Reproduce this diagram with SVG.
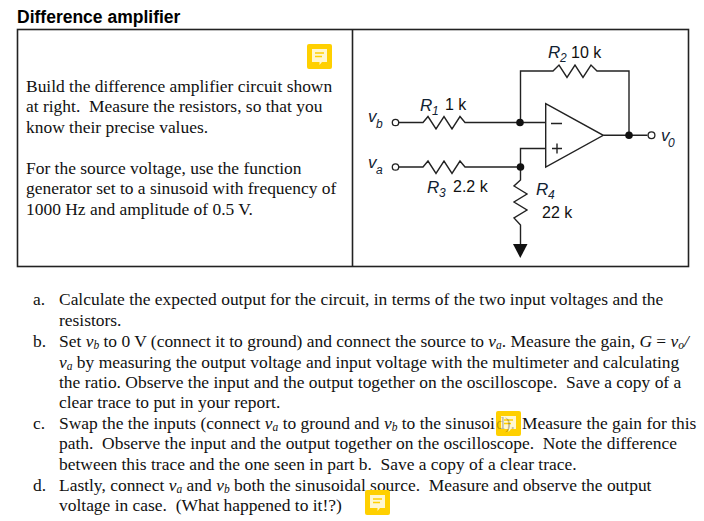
<svg xmlns="http://www.w3.org/2000/svg" width="704" height="521" viewBox="0 0 704 521">
<defs>
<style>
text{fill:#000;white-space:pre}
.s{font-family:"Liberation Serif",serif;font-size:17.45px;fill:#111}
.i{font-style:italic}
.sub{font-size:11.5px;font-style:italic}
.h{font-family:"Liberation Sans",sans-serif;font-size:17.5px;font-weight:bold}
.c{font-family:"Liberation Sans",sans-serif;font-size:16px;fill:#111}
.ci{font-family:"Liberation Sans",sans-serif;font-size:17px;font-style:italic;fill:#123}
.cs{font-family:"Liberation Sans",sans-serif;font-size:12px;font-style:italic;fill:#123}
.w{fill:none;stroke:#222;stroke-width:1.4}
.t{fill:#fff;stroke:#222;stroke-width:1.3}
.d{fill:#111}
.box{fill:none;stroke:#222;stroke-width:1.6}
</style>
<g id="note">
<rect x="0" y="0" width="25" height="25" rx="2" fill="#ffd000"/>
<path d="M5 5H20V18H15L12.500 21V18H5Z" fill="#fff7d0"/>
<path d="M8 9H17M8 12.500H15" stroke="#ffd000" stroke-width="1.300" fill="none"/>
</g>
</defs>
<rect width="704" height="521" fill="#fff"/>
<text id="title" class="h" x="17" y="23">Difference amplifier</text>
<g id="frame">
<rect class="box" x="17.500" y="29.500" width="671" height="237"/>
<path class="box" d="M352.500 29.500V266.500"/>
</g>
<g id="intro">
<text class="s" x="26" y="92">Build the difference amplifier circuit shown</text>
<text class="s" x="26" y="112">at right.  Measure the resistors, so that you</text>
<text class="s" x="26" y="133">know their precise values.</text>
<text class="s" x="26" y="174">For the source voltage, use the function</text>
<text class="s" x="26" y="194">generator set to a sinusoid with frequency of</text>
<text class="s" x="26" y="215">1000 Hz and amplitude of 0.5 V.</text>
</g>
<g id="connectors">
<path class="w" d="M399 122.500H423L428 116.500L436 129L444 116.500L452 129L460 116.500L465 122.500H545.500"/>
<path class="w" d="M399 167H423L428 161L436 173.500L444 161L452 173.500L460 161L465 167H520.500"/>
<path class="w" d="M520.500 122.500V71H553L559 65L567 77.500L575 65L583 77.500L591 65L597 71H629V135"/>
<path class="w" d="M545.500 148.500H520.500V180L514 186L527 194L514 202L527 210L514 218L520.500 225V244"/>
<path class="w" d="M603.500 135.300H647.500"/>
</g>
<g id="opamp">
<path d="M545.700 103.700L603.300 135.300L545.700 167Z" fill="#fff" stroke="#222" stroke-width="1.400"/>
<path class="w" d="M551 123.500H562M552 148.500H562M557 143.500V153.500"/>
</g>
<g id="node-vb"><circle class="t" cx="395.500" cy="122.500" r="3.200"/></g>
<g id="node-va"><circle class="t" cx="395.500" cy="167" r="3.200"/></g>
<g id="node-vo"><circle class="t" cx="651.500" cy="135.300" r="3.400"/></g>
<g id="junctions">
<circle class="d" cx="520" cy="122.500" r="3.800"/>
<circle class="d" cx="520.500" cy="167" r="3.800"/>
<circle class="d" cx="629" cy="135.300" r="3.800"/>
</g>
<g id="ground"><path class="d" d="M513 244H527.500L520.300 258Z"/></g>
<g id="labels">
<text class="ci" x="368" y="122">v</text><text class="cs" x="376" y="128">b</text>
<text class="ci" x="368" y="168">v</text><text class="cs" x="376" y="174">a</text>
<text class="ci" x="661" y="141">v</text><text class="cs" x="668" y="147">0</text>
<text class="ci" x="420" y="111">R</text><text class="cs" x="432" y="115">1</text><text class="c" x="445" y="110">1 k</text>
<text class="ci" x="548" y="58">R</text><text class="cs" x="560" y="62">2</text><text class="c" x="571" y="58">10 k</text>
<text class="ci" x="427" y="193">R</text><text class="cs" x="439" y="197">3</text><text class="c" x="453" y="192">2.2 k</text>
<text class="ci" x="536" y="195">R</text><text class="cs" x="548" y="199">4</text>
<text class="c" x="542" y="218">22 k</text>
</g>
<use id="note-2a" href="#note" x="496" y="411"/>
<g id="questions">
<text class="s" x="33" y="305">a.</text>
<text class="s" x="59" y="305">Calculate the expected output for the circuit, in terms of the two input voltages and the</text>
<text class="s" x="59" y="326">resistors.</text>
<text class="s" x="33" y="347">b.</text>
<text class="s" x="59" y="347">Set <tspan class="i">v</tspan><tspan class="sub" dy="2">b</tspan><tspan dy="-2"> to 0 V (connect it to ground) and connect the source to </tspan><tspan class="i">v</tspan><tspan class="sub" dy="2">a</tspan><tspan dy="-2">. Measure the gain, </tspan><tspan class="i">G</tspan> = <tspan class="i">v</tspan><tspan class="sub" dy="2">o</tspan><tspan class="i" dy="-2">/</tspan></text>
<text class="s" x="59" y="368"><tspan class="i">v</tspan><tspan class="sub" dy="2">a</tspan><tspan dy="-2"> by measuring the output voltage and input voltage with the multimeter and calculating</tspan></text>
<text class="s" x="59" y="388">the ratio. Observe the input and the output together on the oscilloscope.  Save a copy of a</text>
<text class="s" x="59" y="408">clear trace to put in your report.</text>
<text class="s" x="33" y="429">c.</text>
<text class="s" x="59" y="429">Swap the the inputs (connect <tspan class="i">v</tspan><tspan class="sub" dy="2">a</tspan><tspan dy="-2"> to ground and </tspan><tspan class="i">v</tspan><tspan class="sub" dy="2">b</tspan><tspan dy="-2"> to the sinusoi</tspan></text>
<text class="s" x="496" y="429" fill-opacity="0.3">d).</text>
<text class="s" x="522" y="429">Measure the gain for this</text>
<text class="s" x="59" y="449">path.  Observe the input and the output together on the oscilloscope.  Note the difference</text>
<text class="s" x="59" y="470">between this trace and the one seen in part b.  Save a copy of a clear trace.</text>
<text class="s" x="33" y="491">d.</text>
<text class="s" x="59" y="491">Lastly, connect <tspan class="i">v</tspan><tspan class="sub" dy="2">a</tspan><tspan dy="-2"> and </tspan><tspan class="i">v</tspan><tspan class="sub" dy="2">b</tspan><tspan dy="-2"> both the sinusoidal source.  Measure and observe the output</tspan></text>
<text class="s" x="59" y="511">voltage in case.  (What happened to it!?)</text>
</g>
<use id="note-1" href="#note" x="307" y="44"/>
<use id="note-3" href="#note" x="365" y="490"/>
</svg>
